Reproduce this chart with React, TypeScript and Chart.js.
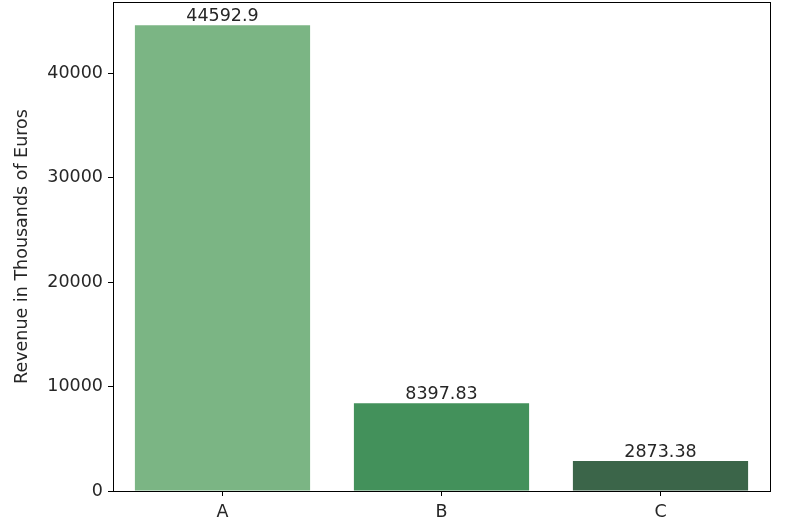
import { useEffect, useRef } from 'react'
import { Chart, registerables } from 'chart.js'

Chart.register(...registerables)

const categories = ['A', 'B', 'C']
const revenue = [44592.9, 8397.83, 2873.38]
const valueLabels = ['44592.9', '8397.83', '2873.38']
const barColors = ['#7bb584', '#43915b', '#3b6549']
const yTicks = [0, 10000, 20000, 30000, 40000]

const FONT = "'DejaVu Sans', sans-serif"
const SIZE = 17.5

// draws the value above each bar and a box round the plot area
const labelsAndFrame = {
  id: 'labelsAndFrame',
  afterDatasetsDraw(chart: Chart) {
    const { ctx, chartArea } = chart
    const meta = chart.getDatasetMeta(0)
    ctx.save()
    ctx.fillStyle = '#262626'
    ctx.font = `${SIZE}px ${FONT}`
    ctx.textAlign = 'center'
    ctx.textBaseline = 'bottom'
    meta.data.forEach((bar: any, i: number) => {
      ctx.fillText(valueLabels[i], bar.x, bar.y)
    })
    ctx.strokeStyle = '#000'
    ctx.lineWidth = 1
    ctx.strokeRect(
      Math.round(chartArea.left) + 0.5,
      Math.round(chartArea.top) + 0.5,
      Math.round(chartArea.right - chartArea.left),
      Math.round(chartArea.bottom - chartArea.top)
    )
    ctx.restore()
  },
}

function RevenueChart() {
  const canvasRef = useRef<HTMLCanvasElement>(null)
  const chartRef = useRef<Chart | null>(null)

  useEffect(() => {
    if (!canvasRef.current) return
    if (chartRef.current) chartRef.current.destroy()

    chartRef.current = new Chart(canvasRef.current, {
      type: 'bar',
      data: {
        labels: categories,
        datasets: [
          {
            data: revenue,
            backgroundColor: barColors,
            borderWidth: 0,
            categoryPercentage: 1,
            barPercentage: 0.8,
          },
        ],
      },
      options: {
        animation: false,
        responsive: false,
        devicePixelRatio: 1,
        layout: { padding: { top: 2, right: 26, left: 0, bottom: 0 } },
        plugins: { legend: { display: false }, tooltip: { enabled: false } },
        scales: {
          x: {
            grid: { drawOnChartArea: false, offset: false, tickLength: 5, tickColor: '#000' },
            border: { color: '#000' },
            ticks: { color: '#262626', font: { family: FONT, size: SIZE }, padding: 6 },
            afterFit: (scale: any) => {
              scale.height = 32
              scale.paddingLeft = 0
              scale.paddingRight = 0
            },
          },
          y: {
            min: 0,
            max: 46822,
            afterBuildTicks: (scale: any) => {
              scale.ticks = yTicks.map(v => ({ value: v }))
            },
            grid: { drawOnChartArea: false, tickLength: 5, tickColor: '#000' },
            border: { color: '#000' },
            ticks: {
              color: '#262626',
              font: { family: FONT, size: SIZE },
              padding: 5,
              callback: (v: any) => String(v),
            },
            title: {
              display: true,
              text: 'Revenue in Thousands of Euros',
              color: '#262626',
              font: { family: FONT, size: SIZE },
              padding: { top: 12, bottom: 0 },
            },
            afterFit: (scale: any) => {
              scale.width = 113
              scale.paddingTop = 0
              scale.paddingBottom = 0
            },
          },
        },
      },
      plugins: [labelsAndFrame],
    })

    return () => {
      if (chartRef.current) {
        chartRef.current.destroy()
        chartRef.current = null
      }
    }
  }, [])

  return <canvas ref={canvasRef} width={796} height={523} style={{ display: 'block' }} />
}

export default function App() {
  return (
    <div style={{ position: 'fixed', left: 0, top: 0, width: 796, height: 523, background: '#fff' }}>
      <RevenueChart />
    </div>
  )
}
